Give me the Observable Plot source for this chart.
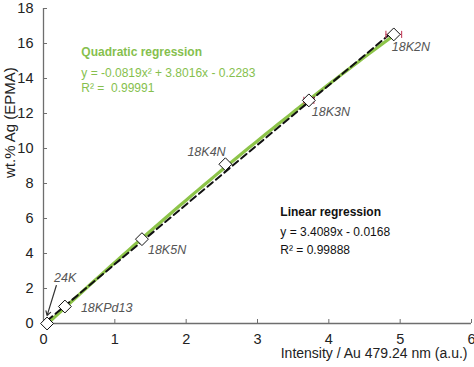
<!DOCTYPE html>
<html>
<head>
<meta charset="utf-8">
<script src="https://cdn.jsdelivr.net/npm/d3@7"></script>
<script src="https://cdn.jsdelivr.net/npm/@observablehq/plot@0.6"></script>
<style>
  html, body { margin: 0; padding: 0; background: #fff; }
  svg { font-family: "Liberation Sans", Arial, sans-serif; }
</style>
</head>
<body>
<div id="chart"></div>
<script>
// ---- data ----
const samples = ["24K", "18KPd13", "18K5N", "18K4N", "18K3N", "18K2N"];
const intensity = [0.05, 0.30, 1.38, 2.55, 3.72, 4.91];
const agWt = [0.0, 0.97, 4.82, 9.10, 12.75, 16.52];
const intensityErr = [0.0, 0.0, 0.0, 0.0, 0.07, 0.11];
const xTicks = [0, 1, 2, 3, 4, 5, 6];
const yTicks = [0, 2, 4, 6, 8, 10, 12, 14, 16, 18];
const quadCoef = [-0.0819, 3.8016, -0.2283]; // a x^2 + b x + c
const linCoef = [3.4089, -0.0168];           // m x + q
const quadRange = [0.06, 4.9];
const linRange = [0.05, 4.87];
const quadText = ["Quadratic regression", "y = -0.0819x² + 3.8016x - 0.2283", "R² =  0.99991"];
const linText = ["Linear regression", "y = 3.4089x - 0.0168", "R² = 0.99888"];
const xTitle = "Intensity / Au 479.24 nm (a.u.)";
const yTitle = "wt.% Ag (EPMA)";

// ---- derived tables ----
const points = samples.map((s, i) => ({name: s, x: intensity[i], y: agWt[i], e: intensityErr[i]}));
const errPts = points.filter(d => d.e > 0);
const steps = d3.range(0, 61).map(i => i / 60);
const quadLine = steps.map(t => {
  const x = quadRange[0] + t * (quadRange[1] - quadRange[0]);
  return {x, y: quadCoef[0] * x * x + quadCoef[1] * x + quadCoef[2]};
});
const linLine = linRange.map(x => ({x, y: linCoef[0] * x + linCoef[1]}));

// label placement (pixel offsets from each point)
const labelOffset = {
  "24K": [7, -46], "18KPd13": [16, 1], "18K5N": [6, 11],
  "18K4N": [-38, -12], "18K3N": [3, 12], "18K2N": [-2, 13]
};
const labels = points.map(d => ({...d, dx: labelOffset[d.name][0], dy: labelOffset[d.name][1]}));

const capSymbol = {draw(ctx, size) { const r = Math.sqrt(size) / 2; ctx.moveTo(0, -r); ctx.lineTo(0, r); }};

const green = "#8dc449";
const greenText = "#86bf4e";
const axisColor = "#6e6e6e";

const labelMarks = labels.map(d => Plot.text([d], {
  x: "x", y: "y", text: "name", dx: d.dx, dy: d.dy, textAnchor: "start",
  fontStyle: "italic", fontSize: 12.5, fill: "#555"
}));

const chart = Plot.plot({
  width: 474,
  height: 367,
  marginLeft: 43,
  marginRight: 3,
  marginTop: 8,
  marginBottom: 44,
  style: {fontFamily: "Liberation Sans, Arial, sans-serif", background: "#fff"},
  x: {domain: [0, 6]},
  y: {domain: [0, 18]},
  marks: [
    Plot.ruleY([0], {stroke: axisColor, strokeWidth: 1.3}),
    Plot.ruleX([0], {stroke: axisColor, strokeWidth: 1.3}),
    Plot.axisX({ticks: xTicks, tickSize: -4, tickPadding: 14, fontSize: 14.5, color: "#222", stroke: axisColor, label: null, tickFormat: d3.format("d")}),
    Plot.axisY({ticks: yTicks, tickSize: -4, tickPadding: 14, fontSize: 14.5, color: "#222", stroke: axisColor, label: null, tickFormat: d3.format("d")}),
    Plot.text([xTitle], {frameAnchor: "bottom-right", textAnchor: "end", dx: -4, dy: 34, fontSize: 14, fill: "#222"}),
    Plot.text([yTitle], {frameAnchor: "left", rotate: -90, dx: -33, dy: 12, fontSize: 15, fill: "#222"}),
    Plot.line(quadLine, {x: "x", y: "y", stroke: green, strokeWidth: 3.2}),
    Plot.line(linLine, {x: "x", y: "y", stroke: "#111", strokeWidth: 2, strokeDasharray: "7,4"}),
    Plot.ruleY(errPts, {y: "y", x1: d => d.x - d.e, x2: d => d.x + d.e, stroke: "#c9506a", strokeWidth: 1.2}),
    Plot.dot(errPts, {x: d => d.x - d.e, y: "y", symbol: capSymbol, r: 4, stroke: "#c9506a", strokeWidth: 1.2}),
    Plot.dot(errPts, {x: d => d.x + d.e, y: "y", symbol: capSymbol, r: 4, stroke: "#c9506a", strokeWidth: 1.2}),
    Plot.dot(points, {x: "x", y: "y", symbol: "diamond2", r: 5.8, fill: "white", stroke: "#111", strokeWidth: 1}),
    ...labelMarks,
    Plot.arrow([{x1: 0.18, y1: 2.17, x2: 0.05, y2: 0.45}], {x1: "x1", y1: "y1", x2: "x2", y2: "y2", stroke: "#333", strokeWidth: 1.2, headLength: 6}),
    Plot.text([quadText[0]], {x: 0.53, y: 15.5, textAnchor: "start", fontWeight: "bold", fontSize: 12, fill: greenText}),
    Plot.text([quadText[1]], {x: 0.53, y: 14.3, textAnchor: "start", fontSize: 12, fill: greenText}),
    Plot.text([quadText[2]], {x: 0.53, y: 13.43, textAnchor: "start", fontSize: 12, fill: greenText}),
    Plot.text([linText[0]], {x: 3.32, y: 6.36, textAnchor: "start", fontWeight: "bold", fontSize: 12, fill: "#111"}),
    Plot.text([linText[1]], {x: 3.32, y: 5.22, textAnchor: "start", fontSize: 12, fill: "#111"}),
    Plot.text([linText[2]], {x: 3.32, y: 4.17, textAnchor: "start", fontSize: 12, fill: "#111"})
  ]
});
document.getElementById("chart").appendChild(chart);
</script>
</body>
</html>
